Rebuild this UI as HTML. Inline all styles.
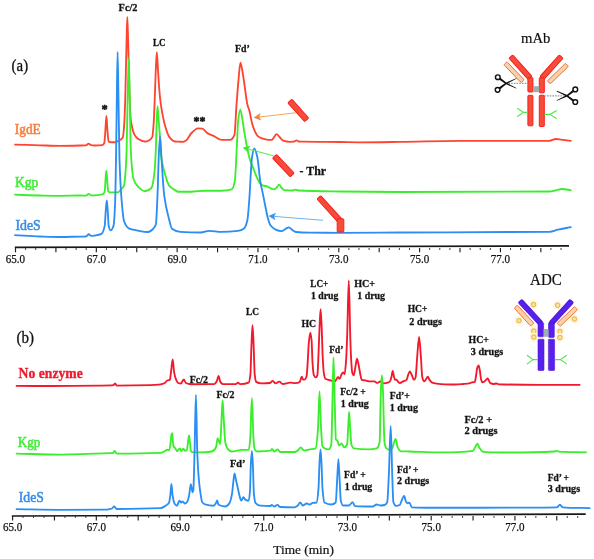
<!DOCTYPE html><html><head><meta charset="utf-8"><title>Chromatograms</title><style>html,body{margin:0;padding:0;background:#fff;}svg{display:block;}</style></head><body><svg width="594" height="559" viewBox="0 0 594 559"><rect width="100%" height="100%" fill="#fff"/><line x1="14.8" y1="247.40" x2="569.0" y2="245.95" stroke="#151a18" stroke-width="1.7"/>
<line x1="15.50" y1="247.90" x2="15.50" y2="252.30" stroke="#1d2220" stroke-width="1.15"/>
<text x="5.8" y="262.6" font-family="'Liberation Serif', serif" font-size="12.5" font-weight="normal" fill="#111" stroke="#111" stroke-width="0.25" stroke-linejoin="round" textLength="19.3" lengthAdjust="spacingAndGlyphs">65.0</text>
<line x1="25.60" y1="248.10" x2="25.60" y2="249.90" stroke="#2a302e" stroke-width="1.0"/>
<line x1="35.70" y1="248.10" x2="35.70" y2="249.90" stroke="#2a302e" stroke-width="1.0"/>
<line x1="45.81" y1="248.10" x2="45.81" y2="249.90" stroke="#2a302e" stroke-width="1.0"/>
<line x1="55.91" y1="247.90" x2="55.91" y2="252.30" stroke="#1d2220" stroke-width="1.15"/>
<line x1="66.01" y1="248.10" x2="66.01" y2="249.90" stroke="#2a302e" stroke-width="1.0"/>
<line x1="76.11" y1="248.10" x2="76.11" y2="249.90" stroke="#2a302e" stroke-width="1.0"/>
<line x1="86.22" y1="248.10" x2="86.22" y2="249.90" stroke="#2a302e" stroke-width="1.0"/>
<line x1="96.32" y1="247.90" x2="96.32" y2="252.30" stroke="#1d2220" stroke-width="1.15"/>
<text x="86.7" y="262.6" font-family="'Liberation Serif', serif" font-size="12.5" font-weight="normal" fill="#111" stroke="#111" stroke-width="0.25" stroke-linejoin="round" textLength="19.3" lengthAdjust="spacingAndGlyphs">67.0</text>
<line x1="106.42" y1="248.10" x2="106.42" y2="249.90" stroke="#2a302e" stroke-width="1.0"/>
<line x1="116.52" y1="248.10" x2="116.52" y2="249.90" stroke="#2a302e" stroke-width="1.0"/>
<line x1="126.63" y1="248.10" x2="126.63" y2="249.90" stroke="#2a302e" stroke-width="1.0"/>
<line x1="136.73" y1="247.90" x2="136.73" y2="252.30" stroke="#1d2220" stroke-width="1.15"/>
<line x1="146.83" y1="248.10" x2="146.83" y2="249.90" stroke="#2a302e" stroke-width="1.0"/>
<line x1="156.94" y1="248.10" x2="156.94" y2="249.90" stroke="#2a302e" stroke-width="1.0"/>
<line x1="167.04" y1="248.10" x2="167.04" y2="249.90" stroke="#2a302e" stroke-width="1.0"/>
<line x1="177.14" y1="247.90" x2="177.14" y2="252.30" stroke="#1d2220" stroke-width="1.15"/>
<text x="167.5" y="262.6" font-family="'Liberation Serif', serif" font-size="12.5" font-weight="normal" fill="#111" stroke="#111" stroke-width="0.25" stroke-linejoin="round" textLength="19.3" lengthAdjust="spacingAndGlyphs">69.0</text>
<line x1="187.24" y1="248.10" x2="187.24" y2="249.90" stroke="#2a302e" stroke-width="1.0"/>
<line x1="197.34" y1="248.10" x2="197.34" y2="249.90" stroke="#2a302e" stroke-width="1.0"/>
<line x1="207.45" y1="248.10" x2="207.45" y2="249.90" stroke="#2a302e" stroke-width="1.0"/>
<line x1="217.55" y1="247.90" x2="217.55" y2="252.30" stroke="#1d2220" stroke-width="1.15"/>
<line x1="227.65" y1="248.10" x2="227.65" y2="249.90" stroke="#2a302e" stroke-width="1.0"/>
<line x1="237.75" y1="248.10" x2="237.75" y2="249.90" stroke="#2a302e" stroke-width="1.0"/>
<line x1="247.86" y1="248.10" x2="247.86" y2="249.90" stroke="#2a302e" stroke-width="1.0"/>
<line x1="257.96" y1="247.90" x2="257.96" y2="252.30" stroke="#1d2220" stroke-width="1.15"/>
<text x="248.3" y="262.6" font-family="'Liberation Serif', serif" font-size="12.5" font-weight="normal" fill="#111" stroke="#111" stroke-width="0.25" stroke-linejoin="round" textLength="19.3" lengthAdjust="spacingAndGlyphs">71.0</text>
<line x1="268.06" y1="248.10" x2="268.06" y2="249.90" stroke="#2a302e" stroke-width="1.0"/>
<line x1="278.16" y1="248.10" x2="278.16" y2="249.90" stroke="#2a302e" stroke-width="1.0"/>
<line x1="288.27" y1="248.10" x2="288.27" y2="249.90" stroke="#2a302e" stroke-width="1.0"/>
<line x1="298.37" y1="247.90" x2="298.37" y2="252.30" stroke="#1d2220" stroke-width="1.15"/>
<line x1="308.47" y1="248.10" x2="308.47" y2="249.90" stroke="#2a302e" stroke-width="1.0"/>
<line x1="318.57" y1="248.10" x2="318.57" y2="249.90" stroke="#2a302e" stroke-width="1.0"/>
<line x1="328.68" y1="248.10" x2="328.68" y2="249.90" stroke="#2a302e" stroke-width="1.0"/>
<line x1="338.78" y1="247.90" x2="338.78" y2="252.30" stroke="#1d2220" stroke-width="1.15"/>
<text x="329.1" y="262.6" font-family="'Liberation Serif', serif" font-size="12.5" font-weight="normal" fill="#111" stroke="#111" stroke-width="0.25" stroke-linejoin="round" textLength="19.3" lengthAdjust="spacingAndGlyphs">73.0</text>
<line x1="348.88" y1="248.10" x2="348.88" y2="249.90" stroke="#2a302e" stroke-width="1.0"/>
<line x1="358.98" y1="248.10" x2="358.98" y2="249.90" stroke="#2a302e" stroke-width="1.0"/>
<line x1="369.09" y1="248.10" x2="369.09" y2="249.90" stroke="#2a302e" stroke-width="1.0"/>
<line x1="379.19" y1="247.90" x2="379.19" y2="252.30" stroke="#1d2220" stroke-width="1.15"/>
<line x1="389.29" y1="248.10" x2="389.29" y2="249.90" stroke="#2a302e" stroke-width="1.0"/>
<line x1="399.39" y1="248.10" x2="399.39" y2="249.90" stroke="#2a302e" stroke-width="1.0"/>
<line x1="409.50" y1="248.10" x2="409.50" y2="249.90" stroke="#2a302e" stroke-width="1.0"/>
<line x1="419.60" y1="247.90" x2="419.60" y2="252.30" stroke="#1d2220" stroke-width="1.15"/>
<text x="409.9" y="262.6" font-family="'Liberation Serif', serif" font-size="12.5" font-weight="normal" fill="#111" stroke="#111" stroke-width="0.25" stroke-linejoin="round" textLength="19.3" lengthAdjust="spacingAndGlyphs">75.0</text>
<line x1="429.70" y1="248.10" x2="429.70" y2="249.90" stroke="#2a302e" stroke-width="1.0"/>
<line x1="439.80" y1="248.10" x2="439.80" y2="249.90" stroke="#2a302e" stroke-width="1.0"/>
<line x1="449.91" y1="248.10" x2="449.91" y2="249.90" stroke="#2a302e" stroke-width="1.0"/>
<line x1="460.01" y1="247.90" x2="460.01" y2="252.30" stroke="#1d2220" stroke-width="1.15"/>
<line x1="470.11" y1="248.10" x2="470.11" y2="249.90" stroke="#2a302e" stroke-width="1.0"/>
<line x1="480.21" y1="248.10" x2="480.21" y2="249.90" stroke="#2a302e" stroke-width="1.0"/>
<line x1="490.32" y1="248.10" x2="490.32" y2="249.90" stroke="#2a302e" stroke-width="1.0"/>
<line x1="500.42" y1="247.90" x2="500.42" y2="252.30" stroke="#1d2220" stroke-width="1.15"/>
<text x="490.8" y="262.6" font-family="'Liberation Serif', serif" font-size="12.5" font-weight="normal" fill="#111" stroke="#111" stroke-width="0.25" stroke-linejoin="round" textLength="19.3" lengthAdjust="spacingAndGlyphs">77.0</text>
<line x1="510.52" y1="248.10" x2="510.52" y2="249.90" stroke="#2a302e" stroke-width="1.0"/>
<line x1="520.62" y1="248.10" x2="520.62" y2="249.90" stroke="#2a302e" stroke-width="1.0"/>
<line x1="530.73" y1="248.10" x2="530.73" y2="249.90" stroke="#2a302e" stroke-width="1.0"/>
<line x1="540.83" y1="247.90" x2="540.83" y2="252.30" stroke="#1d2220" stroke-width="1.15"/>
<line x1="550.93" y1="248.10" x2="550.93" y2="249.90" stroke="#2a302e" stroke-width="1.0"/>
<line x1="561.03" y1="248.10" x2="561.03" y2="249.90" stroke="#2a302e" stroke-width="1.0"/>
<line x1="11.8" y1="516.00" x2="585.7" y2="514.20" stroke="#151a18" stroke-width="1.7"/>
<line x1="12.60" y1="515.90" x2="12.60" y2="520.50" stroke="#1d2220" stroke-width="1.15"/>
<text x="2.9" y="531.3" font-family="'Liberation Serif', serif" font-size="12.5" font-weight="normal" fill="#111" stroke="#111" stroke-width="0.25" stroke-linejoin="round" textLength="19.3" lengthAdjust="spacingAndGlyphs">65.0</text>
<line x1="23.06" y1="516.10" x2="23.06" y2="517.90" stroke="#2a302e" stroke-width="1.0"/>
<line x1="33.53" y1="516.10" x2="33.53" y2="517.90" stroke="#2a302e" stroke-width="1.0"/>
<line x1="43.99" y1="516.10" x2="43.99" y2="517.90" stroke="#2a302e" stroke-width="1.0"/>
<line x1="54.46" y1="515.90" x2="54.46" y2="520.50" stroke="#1d2220" stroke-width="1.15"/>
<line x1="64.92" y1="516.10" x2="64.92" y2="517.90" stroke="#2a302e" stroke-width="1.0"/>
<line x1="75.39" y1="516.10" x2="75.39" y2="517.90" stroke="#2a302e" stroke-width="1.0"/>
<line x1="85.85" y1="516.10" x2="85.85" y2="517.90" stroke="#2a302e" stroke-width="1.0"/>
<line x1="96.32" y1="515.90" x2="96.32" y2="520.50" stroke="#1d2220" stroke-width="1.15"/>
<text x="86.7" y="531.3" font-family="'Liberation Serif', serif" font-size="12.5" font-weight="normal" fill="#111" stroke="#111" stroke-width="0.25" stroke-linejoin="round" textLength="19.3" lengthAdjust="spacingAndGlyphs">67.0</text>
<line x1="106.78" y1="516.10" x2="106.78" y2="517.90" stroke="#2a302e" stroke-width="1.0"/>
<line x1="117.25" y1="516.10" x2="117.25" y2="517.90" stroke="#2a302e" stroke-width="1.0"/>
<line x1="127.71" y1="516.10" x2="127.71" y2="517.90" stroke="#2a302e" stroke-width="1.0"/>
<line x1="138.18" y1="515.90" x2="138.18" y2="520.50" stroke="#1d2220" stroke-width="1.15"/>
<line x1="148.64" y1="516.10" x2="148.64" y2="517.90" stroke="#2a302e" stroke-width="1.0"/>
<line x1="159.11" y1="516.10" x2="159.11" y2="517.90" stroke="#2a302e" stroke-width="1.0"/>
<line x1="169.57" y1="516.10" x2="169.57" y2="517.90" stroke="#2a302e" stroke-width="1.0"/>
<line x1="180.04" y1="515.90" x2="180.04" y2="520.50" stroke="#1d2220" stroke-width="1.15"/>
<text x="170.4" y="531.3" font-family="'Liberation Serif', serif" font-size="12.5" font-weight="normal" fill="#111" stroke="#111" stroke-width="0.25" stroke-linejoin="round" textLength="19.3" lengthAdjust="spacingAndGlyphs">69.0</text>
<line x1="190.50" y1="516.10" x2="190.50" y2="517.90" stroke="#2a302e" stroke-width="1.0"/>
<line x1="200.97" y1="516.10" x2="200.97" y2="517.90" stroke="#2a302e" stroke-width="1.0"/>
<line x1="211.44" y1="516.10" x2="211.44" y2="517.90" stroke="#2a302e" stroke-width="1.0"/>
<line x1="221.90" y1="515.90" x2="221.90" y2="520.50" stroke="#1d2220" stroke-width="1.15"/>
<line x1="232.36" y1="516.10" x2="232.36" y2="517.90" stroke="#2a302e" stroke-width="1.0"/>
<line x1="242.83" y1="516.10" x2="242.83" y2="517.90" stroke="#2a302e" stroke-width="1.0"/>
<line x1="253.29" y1="516.10" x2="253.29" y2="517.90" stroke="#2a302e" stroke-width="1.0"/>
<line x1="263.76" y1="515.90" x2="263.76" y2="520.50" stroke="#1d2220" stroke-width="1.15"/>
<text x="254.1" y="531.3" font-family="'Liberation Serif', serif" font-size="12.5" font-weight="normal" fill="#111" stroke="#111" stroke-width="0.25" stroke-linejoin="round" textLength="19.3" lengthAdjust="spacingAndGlyphs">71.0</text>
<line x1="274.23" y1="516.10" x2="274.23" y2="517.90" stroke="#2a302e" stroke-width="1.0"/>
<line x1="284.69" y1="516.10" x2="284.69" y2="517.90" stroke="#2a302e" stroke-width="1.0"/>
<line x1="295.16" y1="516.10" x2="295.16" y2="517.90" stroke="#2a302e" stroke-width="1.0"/>
<line x1="305.62" y1="515.90" x2="305.62" y2="520.50" stroke="#1d2220" stroke-width="1.15"/>
<line x1="316.09" y1="516.10" x2="316.09" y2="517.90" stroke="#2a302e" stroke-width="1.0"/>
<line x1="326.55" y1="516.10" x2="326.55" y2="517.90" stroke="#2a302e" stroke-width="1.0"/>
<line x1="337.02" y1="516.10" x2="337.02" y2="517.90" stroke="#2a302e" stroke-width="1.0"/>
<line x1="347.48" y1="515.90" x2="347.48" y2="520.50" stroke="#1d2220" stroke-width="1.15"/>
<text x="337.8" y="531.3" font-family="'Liberation Serif', serif" font-size="12.5" font-weight="normal" fill="#111" stroke="#111" stroke-width="0.25" stroke-linejoin="round" textLength="19.3" lengthAdjust="spacingAndGlyphs">73.0</text>
<line x1="357.94" y1="516.10" x2="357.94" y2="517.90" stroke="#2a302e" stroke-width="1.0"/>
<line x1="368.41" y1="516.10" x2="368.41" y2="517.90" stroke="#2a302e" stroke-width="1.0"/>
<line x1="378.88" y1="516.10" x2="378.88" y2="517.90" stroke="#2a302e" stroke-width="1.0"/>
<line x1="389.34" y1="515.90" x2="389.34" y2="520.50" stroke="#1d2220" stroke-width="1.15"/>
<line x1="399.81" y1="516.10" x2="399.81" y2="517.90" stroke="#2a302e" stroke-width="1.0"/>
<line x1="410.27" y1="516.10" x2="410.27" y2="517.90" stroke="#2a302e" stroke-width="1.0"/>
<line x1="420.74" y1="516.10" x2="420.74" y2="517.90" stroke="#2a302e" stroke-width="1.0"/>
<line x1="431.20" y1="515.90" x2="431.20" y2="520.50" stroke="#1d2220" stroke-width="1.15"/>
<text x="421.6" y="531.3" font-family="'Liberation Serif', serif" font-size="12.5" font-weight="normal" fill="#111" stroke="#111" stroke-width="0.25" stroke-linejoin="round" textLength="19.3" lengthAdjust="spacingAndGlyphs">75.0</text>
<line x1="441.67" y1="516.10" x2="441.67" y2="517.90" stroke="#2a302e" stroke-width="1.0"/>
<line x1="452.13" y1="516.10" x2="452.13" y2="517.90" stroke="#2a302e" stroke-width="1.0"/>
<line x1="462.60" y1="516.10" x2="462.60" y2="517.90" stroke="#2a302e" stroke-width="1.0"/>
<line x1="473.06" y1="515.90" x2="473.06" y2="520.50" stroke="#1d2220" stroke-width="1.15"/>
<line x1="483.53" y1="516.10" x2="483.53" y2="517.90" stroke="#2a302e" stroke-width="1.0"/>
<line x1="493.99" y1="516.10" x2="493.99" y2="517.90" stroke="#2a302e" stroke-width="1.0"/>
<line x1="504.46" y1="516.10" x2="504.46" y2="517.90" stroke="#2a302e" stroke-width="1.0"/>
<line x1="514.92" y1="515.90" x2="514.92" y2="520.50" stroke="#1d2220" stroke-width="1.15"/>
<text x="505.3" y="531.3" font-family="'Liberation Serif', serif" font-size="12.5" font-weight="normal" fill="#111" stroke="#111" stroke-width="0.25" stroke-linejoin="round" textLength="19.3" lengthAdjust="spacingAndGlyphs">77.0</text>
<line x1="525.38" y1="516.10" x2="525.38" y2="517.90" stroke="#2a302e" stroke-width="1.0"/>
<line x1="535.85" y1="516.10" x2="535.85" y2="517.90" stroke="#2a302e" stroke-width="1.0"/>
<line x1="546.32" y1="516.10" x2="546.32" y2="517.90" stroke="#2a302e" stroke-width="1.0"/>
<line x1="556.78" y1="515.90" x2="556.78" y2="520.50" stroke="#1d2220" stroke-width="1.15"/>
<line x1="567.25" y1="516.10" x2="567.25" y2="517.90" stroke="#2a302e" stroke-width="1.0"/>
<line x1="577.71" y1="516.10" x2="577.71" y2="517.90" stroke="#2a302e" stroke-width="1.0"/>
<path d="M15.00 144.60 C23.33 144.83 31.67 145.08 40.00 145.30 C46.67 145.48 53.33 145.80 60.00 145.80 C66.67 145.80 73.33 145.65 80.00 145.50 C82.00 145.46 84.00 145.44 86.00 145.30 C86.90 145.24 87.80 143.60 88.70 143.60 C89.47 143.60 90.23 145.09 91.00 145.20 C92.33 145.39 93.67 145.50 95.00 145.50 C97.40 145.50 99.80 145.40 102.20 145.10 C102.90 145.01 103.60 144.42 104.30 143.00 C104.67 142.26 105.03 134.71 105.40 130.00 C105.73 125.72 106.07 116.00 106.40 116.00 C106.73 116.00 107.07 126.19 107.40 130.00 C107.80 134.58 108.20 141.22 108.60 141.50 C109.30 141.99 110.00 142.20 110.70 142.20 C112.13 142.20 113.57 142.20 115.00 142.20 C116.67 142.20 118.33 141.04 120.00 140.00 C120.97 139.40 121.93 139.09 122.90 137.20 C123.37 136.29 123.83 130.00 124.30 123.00 C124.60 118.50 124.90 109.71 125.20 100.00 C125.43 92.45 125.67 80.00 125.90 70.00 C126.13 60.00 126.37 48.68 126.60 40.00 C126.83 31.32 127.07 17.00 127.30 17.00 C127.57 17.00 127.83 31.32 128.10 40.00 C128.37 48.68 128.63 60.00 128.90 70.00 C129.17 80.00 129.43 93.00 129.70 100.00 C130.00 107.87 130.30 114.89 130.60 118.00 C130.90 121.11 131.20 122.79 131.50 124.30 C132.43 129.00 133.37 132.69 134.30 134.40 C135.50 136.60 136.70 137.95 137.90 138.70 C140.27 140.18 142.63 141.50 145.00 141.50 C147.40 141.50 149.80 140.54 152.20 137.20 C152.70 136.50 153.20 129.90 153.70 123.00 C154.03 118.40 154.37 108.40 154.70 100.00 C155.00 92.44 155.30 81.83 155.60 75.00 C156.00 65.89 156.40 52.20 156.80 52.20 C157.20 52.20 157.60 63.94 158.00 70.00 C158.37 75.55 158.73 82.32 159.10 87.00 C159.50 92.11 159.90 96.55 160.30 100.00 C160.70 103.45 161.10 106.23 161.50 108.60 C162.70 115.72 163.90 121.67 165.10 125.80 C166.53 130.73 167.97 135.45 169.40 137.20 C171.27 139.48 173.13 141.41 175.00 141.50 C176.20 141.56 177.40 141.55 178.60 141.60 C179.83 141.65 181.07 141.90 182.30 141.90 C183.57 141.90 184.83 141.21 186.10 140.50 C187.90 139.49 189.70 134.74 191.50 133.00 C193.63 130.93 195.77 128.30 197.90 128.30 C199.33 128.30 200.77 128.47 202.20 128.70 C204.00 128.99 205.80 132.34 207.60 133.40 C209.73 134.65 211.87 135.21 214.00 136.20 C216.50 137.36 219.00 139.90 221.50 139.90 C224.37 139.90 227.23 139.90 230.10 139.90 C231.53 139.90 232.97 138.43 234.40 135.20 C235.10 133.62 235.80 114.46 236.50 105.10 C237.17 96.18 237.83 87.05 238.50 80.00 C239.13 73.30 239.77 62.60 240.40 62.60 C241.00 62.60 241.60 67.00 242.20 70.00 C242.80 73.00 243.40 77.58 244.00 81.50 C245.17 89.12 246.33 100.34 247.50 105.00 C248.13 107.53 248.77 108.40 249.40 110.70 C250.30 113.97 251.20 120.44 252.10 123.60 C253.00 126.76 253.90 129.15 254.80 131.10 C255.70 133.05 256.60 135.08 257.50 135.90 C258.93 137.21 260.37 137.91 261.80 138.40 C263.93 139.13 266.07 139.90 268.20 139.90 C269.47 139.90 270.73 139.90 272.00 139.90 C272.70 139.90 273.40 137.88 274.10 137.00 C274.93 135.95 275.77 134.10 276.60 134.10 C277.57 134.10 278.53 136.05 279.50 137.00 C280.73 138.22 281.97 140.19 283.20 140.60 C285.33 141.31 287.47 141.80 289.60 141.80 C291.07 141.80 292.53 141.77 294.00 141.70 C294.83 141.66 295.67 140.40 296.50 140.40 C297.33 140.40 298.17 141.40 299.00 141.50 C300.00 141.62 301.00 141.68 302.00 141.70 C314.67 141.93 327.33 141.86 340.00 142.00 C346.67 142.07 353.33 142.30 360.00 142.30 C373.33 142.30 386.67 142.07 400.00 141.90 C419.90 141.65 439.80 140.80 459.70 140.80 C489.60 140.80 519.50 140.80 549.40 140.80 C551.53 140.80 553.67 139.00 555.80 139.00 C557.87 139.00 559.93 139.55 562.00 139.80 C564.93 140.16 567.87 140.47 570.80 140.80" fill="none" stroke="#fd4630" stroke-width="1.85" stroke-linejoin="round" stroke-linecap="round"/>
<path d="M15.00 194.70 C23.33 194.97 31.67 195.33 40.00 195.50 C46.67 195.63 53.33 195.80 60.00 195.80 C66.67 195.80 73.33 195.50 80.00 195.50 C82.00 195.50 84.00 195.60 86.00 195.60 C86.93 195.60 87.87 193.90 88.80 193.90 C89.60 193.90 90.40 195.40 91.20 195.40 C92.47 195.40 93.73 195.35 95.00 195.30 C97.67 195.19 100.33 195.00 103.00 194.10 C103.57 193.91 104.13 193.10 104.70 191.20 C104.97 190.30 105.23 183.41 105.50 180.00 C105.77 176.59 106.03 170.60 106.30 170.60 C106.60 170.60 106.90 176.76 107.20 180.00 C107.53 183.60 107.87 190.79 108.20 191.20 C108.90 192.05 109.60 192.40 110.30 192.40 C112.70 192.40 115.10 192.40 117.50 192.40 C118.60 192.40 119.70 190.71 120.80 189.60 C121.87 188.52 122.93 188.16 124.00 185.60 C124.53 184.32 125.07 178.08 125.60 171.10 C125.93 166.74 126.27 159.89 126.60 150.00 C126.93 140.11 127.27 113.80 127.60 100.00 C128.00 83.44 128.40 58.00 128.80 58.00 C129.13 58.00 129.47 84.78 129.80 100.00 C130.13 115.22 130.47 143.58 130.80 150.00 C131.73 167.96 132.67 176.38 133.60 179.20 C135.23 184.14 136.87 185.69 138.50 187.20 C140.63 189.17 142.77 191.20 144.90 191.20 C147.07 191.20 149.23 190.15 151.40 188.00 C152.47 186.94 153.53 180.53 154.60 171.10 C155.00 167.56 155.40 159.17 155.80 150.00 C156.07 143.88 156.33 131.70 156.60 125.00 C156.90 117.46 157.20 106.20 157.50 106.20 C157.87 106.20 158.23 115.47 158.60 120.00 C159.07 125.76 159.53 130.16 160.00 137.00 C160.33 141.89 160.67 152.09 161.00 155.00 C162.07 164.30 163.13 167.05 164.20 171.10 C165.83 177.30 167.47 183.58 169.10 185.60 C171.07 188.03 173.03 188.94 175.00 190.10 C176.07 190.73 177.13 191.70 178.20 191.70 C182.33 191.70 186.47 191.70 190.60 191.70 C195.40 191.70 200.20 190.70 205.00 190.70 C210.47 190.70 215.93 190.70 221.40 190.70 C224.83 190.70 228.27 190.36 231.70 189.30 C232.73 188.98 233.77 186.22 234.80 181.40 C235.50 178.13 236.20 157.94 236.90 145.00 C237.30 137.60 237.70 125.09 238.10 121.50 C238.83 114.92 239.57 109.60 240.30 109.60 C241.00 109.60 241.70 115.44 242.40 119.30 C242.93 122.24 243.47 126.66 244.00 130.00 C244.73 134.60 245.47 139.03 246.20 142.90 C247.10 147.66 248.00 152.17 248.90 155.80 C249.43 157.95 249.97 160.00 250.50 161.50 C251.00 162.91 251.50 163.78 252.00 165.00 C252.83 167.04 253.67 169.40 254.50 171.50 C255.57 174.19 256.63 177.15 257.70 179.30 C258.47 180.84 259.23 182.39 260.00 183.30 C260.70 184.13 261.40 184.89 262.10 185.20 C263.90 185.99 265.70 185.96 267.50 186.60 C268.67 187.01 269.83 187.89 271.00 188.40 C271.87 188.78 272.73 189.40 273.60 189.40 C274.47 189.40 275.33 188.63 276.20 188.00 C277.20 187.28 278.20 184.60 279.20 184.60 C280.00 184.60 280.80 187.19 281.60 188.00 C282.53 188.95 283.47 190.12 284.40 190.20 C286.93 190.42 289.47 190.50 292.00 190.50 C293.17 190.50 294.33 189.60 295.50 189.60 C296.50 189.60 297.50 190.44 298.50 190.50 C312.33 191.32 326.17 191.32 340.00 191.50 C360.00 191.76 380.00 192.00 400.00 192.00 C449.80 192.00 499.60 191.97 549.40 191.50 C551.27 191.48 553.13 190.86 555.00 190.50 C557.40 190.04 559.80 189.00 562.20 189.00 C565.07 189.00 567.93 189.87 570.80 190.30" fill="none" stroke="#3aee2c" stroke-width="1.85" stroke-linejoin="round" stroke-linecap="round"/>
<path d="M15.00 235.20 C23.33 235.63 31.67 236.22 40.00 236.50 C46.67 236.72 53.33 237.00 60.00 237.00 C66.67 237.00 73.33 236.72 80.00 236.60 C82.00 236.56 84.00 236.57 86.00 236.50 C86.93 236.47 87.87 234.20 88.80 234.20 C89.60 234.20 90.40 235.90 91.20 235.90 C92.47 235.90 93.73 235.68 95.00 235.50 C97.13 235.19 99.27 234.96 101.40 233.90 C102.50 233.35 103.60 231.08 104.70 225.90 C105.07 224.17 105.43 214.22 105.80 210.00 C106.13 206.17 106.47 200.40 106.80 200.40 C107.13 200.40 107.47 207.57 107.80 212.00 C108.10 215.98 108.40 224.55 108.70 225.90 C109.33 228.75 109.97 230.40 110.60 230.40 C111.57 230.40 112.53 228.83 113.50 225.90 C114.03 224.28 114.57 215.57 115.10 203.30 C115.40 196.40 115.70 177.66 116.00 160.00 C116.27 144.30 116.53 117.80 116.80 100.00 C117.07 82.20 117.33 51.90 117.60 51.90 C117.90 51.90 118.20 83.06 118.50 100.00 C118.83 118.83 119.17 149.73 119.50 160.00 C120.20 181.56 120.90 191.54 121.60 200.00 C122.40 209.67 123.20 218.75 124.00 221.00 C125.60 225.50 127.20 227.55 128.80 228.30 C131.50 229.57 134.20 229.89 136.90 230.40 C140.63 231.10 144.37 232.00 148.10 232.00 C149.73 232.00 151.37 230.52 153.00 229.00 C153.97 228.10 154.93 227.33 155.90 224.20 C156.53 222.15 157.17 202.97 157.80 187.20 C158.13 178.90 158.47 161.69 158.80 155.00 C159.23 146.30 159.67 136.50 160.10 136.50 C160.50 136.50 160.90 149.11 161.30 155.00 C162.27 169.23 163.23 187.98 164.20 195.30 C165.83 207.67 167.47 213.13 169.10 219.40 C170.07 223.11 171.03 228.06 172.00 228.80 C174.77 230.92 177.53 231.73 180.30 231.90 C187.17 232.32 194.03 232.50 200.90 232.50 C203.63 232.50 206.37 230.80 209.10 230.80 C213.20 230.80 217.30 231.90 221.40 231.90 C226.90 231.90 232.40 231.50 237.90 230.80 C239.97 230.54 242.03 229.90 244.10 228.40 C245.20 227.60 246.30 224.78 247.40 220.00 C248.13 216.82 248.87 205.53 249.60 195.00 C249.97 189.74 250.33 180.70 250.70 175.00 C251.13 168.27 251.57 160.29 252.00 157.50 C252.77 152.56 253.53 148.40 254.30 148.40 C255.30 148.40 256.30 152.76 257.30 157.00 C258.30 161.24 259.30 175.34 260.30 181.40 C261.23 187.06 262.17 190.40 263.10 195.00 C264.00 199.44 264.90 204.15 265.80 208.50 C266.47 211.73 267.13 215.56 267.80 217.90 C268.70 221.06 269.60 224.07 270.50 225.30 C272.07 227.44 273.63 228.60 275.20 229.30 C277.23 230.21 279.27 231.10 281.30 231.10 C282.87 231.10 284.43 229.48 286.00 228.70 C286.97 228.22 287.93 227.30 288.90 227.30 C289.93 227.30 290.97 229.02 292.00 229.70 C293.37 230.60 294.73 231.84 296.10 232.00 C300.37 232.50 304.63 232.67 308.90 232.70 C319.27 232.77 329.63 232.80 340.00 232.80 C360.00 232.80 380.00 232.60 400.00 232.50 C449.80 232.26 499.60 232.44 549.40 231.80 C552.27 231.76 555.13 230.34 558.00 229.70 C562.27 228.75 566.53 227.97 570.80 227.10" fill="none" stroke="#2a8ef4" stroke-width="1.85" stroke-linejoin="round" stroke-linecap="round"/>
<path d="M16.60 385.90 C27.73 385.93 38.87 386.00 50.00 386.00 C66.67 386.00 83.33 385.84 100.00 385.60 C104.50 385.54 109.00 385.54 113.50 385.20 C114.07 385.16 114.63 383.50 115.20 383.50 C115.73 383.50 116.27 385.60 116.80 385.60 C128.03 385.60 139.27 385.46 150.50 385.20 C153.30 385.14 156.10 384.99 158.90 384.70 C160.87 384.50 162.83 383.95 164.80 383.00 C165.63 382.60 166.47 380.89 167.30 380.50 C168.17 380.09 169.03 380.28 169.90 379.70 C170.27 379.45 170.63 374.72 171.00 372.10 C171.57 368.06 172.13 359.50 172.70 359.50 C173.17 359.50 173.63 369.51 174.10 372.10 C174.67 375.25 175.23 377.43 175.80 378.80 C176.63 380.81 177.47 382.70 178.30 383.00 C179.13 383.30 179.97 383.50 180.80 383.50 C181.80 383.50 182.80 379.50 183.80 379.50 C184.50 379.50 185.20 382.67 185.90 383.00 C187.57 383.78 189.23 384.20 190.90 384.20 C198.70 384.20 206.50 384.19 214.30 384.10 C215.17 384.09 216.03 382.45 216.90 380.90 C217.47 379.89 218.03 375.90 218.60 375.90 C219.17 375.90 219.73 381.09 220.30 381.90 C221.17 383.14 222.03 384.10 222.90 384.10 C227.20 384.10 231.50 384.10 235.80 384.10 C236.50 384.10 237.20 382.60 237.90 382.60 C238.63 382.60 239.37 384.10 240.10 384.10 C242.97 384.10 245.83 383.82 248.70 382.60 C249.27 382.36 249.83 379.29 250.40 374.40 C250.77 371.24 251.13 352.67 251.50 344.40 C251.83 336.89 252.17 325.10 252.50 325.10 C252.87 325.10 253.23 336.57 253.60 344.40 C253.97 352.23 254.33 371.19 254.70 374.40 C255.20 378.78 255.70 381.58 256.20 381.90 C257.97 383.04 259.73 383.40 261.50 383.40 C264.37 383.40 267.23 383.30 270.10 383.00 C270.97 382.91 271.83 380.90 272.70 380.90 C273.63 380.90 274.57 383.40 275.50 383.40 C276.77 383.40 278.03 381.60 279.30 381.60 C280.47 381.60 281.63 384.00 282.80 384.00 C285.20 384.00 287.60 382.60 290.00 382.60 C291.80 382.60 293.60 383.10 295.40 383.10 C296.83 383.10 298.27 382.80 299.70 382.00 C300.03 381.81 300.37 380.24 300.70 379.40 C301.07 378.47 301.43 376.70 301.80 376.70 C302.23 376.70 302.67 379.60 303.10 379.60 C303.73 379.60 304.37 379.53 305.00 379.40 C305.53 379.29 306.07 378.08 306.60 376.10 C306.97 374.74 307.33 367.59 307.70 362.20 C308.07 356.81 308.43 346.58 308.80 342.90 C309.30 337.89 309.80 332.70 310.30 332.70 C310.73 332.70 311.17 336.30 311.60 340.70 C311.90 343.74 312.20 357.89 312.50 362.20 C312.93 368.43 313.37 374.15 313.80 375.10 C314.47 376.56 315.13 377.40 315.80 377.40 C316.33 377.40 316.87 376.62 317.40 375.10 C317.73 374.15 318.07 363.96 318.40 356.80 C318.77 348.92 319.13 335.61 319.50 328.00 C319.87 320.39 320.23 309.10 320.60 309.10 C320.97 309.10 321.33 320.08 321.70 328.00 C322.03 335.20 322.37 350.30 322.70 356.80 C323.07 363.95 323.43 370.66 323.80 372.90 C324.33 376.16 324.87 378.43 325.40 378.80 C326.47 379.54 327.53 379.58 328.60 379.90 C330.03 380.32 331.47 380.81 332.90 381.00 C333.60 381.09 334.30 381.20 335.00 381.20 C336.00 381.20 337.00 376.90 338.00 376.90 C338.50 376.90 339.00 378.90 339.50 378.90 C340.37 378.90 341.23 374.14 342.10 373.30 C342.60 372.81 343.10 372.30 343.60 372.30 C343.93 372.30 344.27 374.30 344.60 374.30 C345.10 374.30 345.60 366.99 346.10 360.20 C346.43 355.68 346.77 346.78 347.10 338.00 C347.67 323.08 348.23 280.50 348.80 280.50 C349.30 280.50 349.80 323.26 350.30 338.00 C350.60 346.85 350.90 355.30 351.20 360.20 C351.53 365.64 351.87 371.06 352.20 372.30 C352.70 374.15 353.20 375.40 353.70 375.40 C354.20 375.40 354.70 370.80 355.20 368.30 C355.80 365.30 356.40 358.70 357.00 358.70 C357.57 358.70 358.13 362.69 358.70 365.30 C359.23 367.75 359.77 371.91 360.30 374.30 C360.80 376.54 361.30 379.74 361.80 379.90 C362.97 380.27 364.13 380.19 365.30 380.40 C366.63 380.64 367.97 381.40 369.30 381.40 C371.00 381.40 372.70 381.40 374.40 381.40 C375.40 381.40 376.40 382.90 377.40 382.90 C378.60 382.90 379.80 381.20 381.00 381.20 C381.83 381.20 382.67 383.40 383.50 383.40 C385.17 383.40 386.83 383.00 388.50 382.40 C389.07 382.20 389.63 381.77 390.20 381.00 C390.60 380.46 391.00 378.74 391.40 377.20 C391.83 375.53 392.27 370.80 392.70 370.80 C393.17 370.80 393.63 375.73 394.10 377.20 C394.47 378.36 394.83 379.90 395.20 379.90 C395.67 379.90 396.13 379.60 396.60 379.60 C397.03 379.60 397.47 381.05 397.90 381.50 C398.60 382.22 399.30 383.10 400.00 383.10 C401.07 383.10 402.13 381.82 403.20 381.30 C404.30 380.77 405.40 380.80 406.50 379.90 C407.03 379.47 407.57 376.43 408.10 375.10 C408.70 373.61 409.30 371.30 409.90 371.30 C410.53 371.30 411.17 373.78 411.80 375.10 C412.53 376.63 413.27 379.90 414.00 379.90 C414.53 379.90 415.07 378.79 415.60 377.20 C416.13 375.61 416.67 362.93 417.20 356.80 C417.83 349.52 418.47 337.00 419.10 337.00 C419.70 337.00 420.30 349.23 420.90 356.80 C421.37 362.68 421.83 375.38 422.30 377.20 C422.93 379.67 423.57 381.30 424.20 381.30 C424.90 381.30 425.60 379.74 426.30 378.80 C426.77 378.18 427.23 376.70 427.70 376.70 C428.30 376.70 428.90 379.12 429.50 379.90 C430.40 381.07 431.30 382.24 432.20 382.60 C433.63 383.17 435.07 383.42 436.50 383.60 C439.33 383.96 442.17 384.21 445.00 384.30 C448.33 384.41 451.67 384.50 455.00 384.50 C457.80 384.50 460.60 384.22 463.40 384.00 C465.67 383.82 467.93 383.69 470.20 383.20 C470.73 383.08 471.27 382.54 471.80 382.40 C472.80 382.14 473.80 382.27 474.80 381.90 C475.20 381.75 475.60 378.23 476.00 376.00 C476.43 373.58 476.87 368.72 477.30 367.60 C477.73 366.48 478.17 365.50 478.60 365.50 C479.00 365.50 479.40 368.19 479.80 370.20 C480.23 372.38 480.67 377.89 481.10 379.40 C481.53 380.91 481.97 382.40 482.40 382.40 C483.10 382.40 483.80 381.94 484.50 381.50 C485.03 381.17 485.57 380.31 486.10 379.80 C486.63 379.29 487.17 378.40 487.70 378.40 C488.17 378.40 488.63 380.28 489.10 381.10 C489.53 381.86 489.97 383.00 490.40 383.20 C491.50 383.72 492.60 384.00 493.70 384.00 C494.53 384.00 495.37 383.50 496.20 383.50 C497.07 383.50 497.93 384.24 498.80 384.30 C500.87 384.44 502.93 384.47 505.00 384.50 C516.67 384.68 528.33 384.80 540.00 384.80 C553.20 384.80 566.40 384.80 579.60 384.80" fill="none" stroke="#f2192c" stroke-width="1.85" stroke-linejoin="round" stroke-linecap="round"/>
<path d="M16.60 453.60 C31.27 453.93 45.93 454.60 60.60 454.60 C77.07 454.60 93.53 453.93 110.00 453.20 C111.03 453.15 112.07 453.14 113.10 453.00 C113.63 452.93 114.17 451.00 114.70 451.00 C115.37 451.00 116.03 453.60 116.70 453.60 C131.13 453.60 145.57 453.49 160.00 452.90 C161.43 452.84 162.87 452.12 164.30 451.50 C165.27 451.08 166.23 449.70 167.20 449.70 C167.90 449.70 168.60 450.10 169.30 450.10 C169.77 450.10 170.23 444.92 170.70 441.50 C170.97 439.54 171.23 435.31 171.50 434.50 C171.73 433.80 171.97 433.20 172.20 433.20 C172.43 433.20 172.67 439.42 172.90 441.50 C173.13 443.58 173.37 446.05 173.60 446.50 C174.07 447.39 174.53 447.34 175.00 447.90 C175.73 448.78 176.47 451.30 177.20 451.30 C177.73 451.30 178.27 449.76 178.80 449.30 C179.20 448.96 179.60 448.50 180.00 448.50 C180.50 448.50 181.00 451.10 181.50 451.10 C182.10 451.10 182.70 448.60 183.30 448.60 C183.90 448.60 184.50 450.80 185.10 450.80 C185.67 450.80 186.23 450.56 186.80 450.10 C187.23 449.75 187.67 444.40 188.10 441.50 C188.40 439.49 188.70 435.40 189.00 435.40 C189.30 435.40 189.60 439.07 189.90 441.50 C190.20 443.93 190.50 449.86 190.80 450.60 C191.17 451.50 191.53 452.07 191.90 452.10 C194.60 452.36 197.30 452.40 200.00 452.40 C203.93 452.40 207.87 452.15 211.80 451.50 C213.20 451.27 214.60 449.92 216.00 447.30 C216.57 446.24 217.13 438.10 217.70 438.10 C218.10 438.10 218.50 440.47 218.90 441.40 C219.33 442.41 219.77 444.00 220.20 444.00 C220.60 444.00 221.00 429.40 221.40 422.10 C221.80 414.80 222.20 400.20 222.60 400.20 C223.03 400.20 223.47 415.36 223.90 422.10 C224.37 429.36 224.83 440.04 225.30 442.30 C226.13 446.33 226.97 448.14 227.80 449.00 C229.20 450.44 230.60 451.50 232.00 451.50 C233.67 451.50 235.33 450.96 237.00 450.70 C238.70 450.43 240.40 449.90 242.10 449.90 C244.33 449.90 246.57 449.90 248.80 449.90 C249.27 449.90 249.73 444.33 250.20 438.90 C250.77 432.30 251.33 398.20 251.90 398.20 C252.43 398.20 252.97 432.11 253.50 438.90 C253.90 443.99 254.30 448.72 254.70 449.40 C255.53 450.81 256.37 451.50 257.20 451.50 C261.70 451.50 266.20 451.38 270.70 450.70 C271.13 450.63 271.57 449.00 272.00 449.00 C272.70 449.00 273.40 451.50 274.10 451.50 C275.33 451.50 276.57 449.40 277.80 449.40 C278.53 449.40 279.27 452.00 280.00 452.00 C284.77 452.00 289.53 452.00 294.30 452.00 C295.50 452.00 296.70 451.16 297.90 450.40 C298.87 449.79 299.83 447.40 300.80 447.40 C301.80 447.40 302.80 450.40 303.80 450.40 C305.77 450.40 307.73 449.73 309.70 449.40 C311.67 449.07 313.63 449.16 315.60 448.40 C316.40 448.09 317.20 438.98 318.00 428.70 C318.50 422.28 319.00 391.30 319.50 391.30 C320.03 391.30 320.57 419.97 321.10 428.70 C321.57 436.34 322.03 445.95 322.50 446.50 C324.47 448.80 326.43 449.40 328.40 449.40 C329.37 449.40 330.33 448.16 331.30 444.50 C331.63 443.24 331.97 422.01 332.30 409.10 C332.70 393.61 333.10 357.50 333.50 357.50 C333.97 357.50 334.43 393.60 334.90 409.10 C335.23 420.17 335.57 439.08 335.90 439.60 C336.33 440.28 336.77 440.11 337.20 440.60 C337.87 441.35 338.53 445.50 339.20 445.50 C340.00 445.50 340.80 443.50 341.60 443.50 C342.43 443.50 343.27 447.40 344.10 447.40 C345.10 447.40 346.10 446.59 347.10 444.50 C347.50 443.66 347.90 431.28 348.30 424.80 C348.57 420.48 348.83 412.00 349.10 412.00 C349.40 412.00 349.70 420.55 350.00 424.80 C350.47 431.40 350.93 443.12 351.40 444.50 C352.27 447.06 353.13 448.26 354.00 448.40 C358.90 449.21 363.80 449.40 368.70 449.40 C371.33 449.40 373.97 449.12 376.60 448.40 C377.60 448.13 378.60 446.76 379.60 442.50 C380.03 440.65 380.47 398.34 380.90 389.40 C381.23 382.52 381.57 375.20 381.90 375.20 C382.23 375.20 382.57 382.97 382.90 389.40 C383.43 399.69 383.97 439.52 384.50 442.50 C385.17 446.23 385.83 447.83 386.50 448.40 C387.67 449.39 388.83 450.00 390.00 450.00 C390.83 450.00 391.67 448.95 392.50 447.70 C393.10 446.80 393.70 442.89 394.30 441.50 C394.77 440.42 395.23 439.00 395.70 439.00 C396.30 439.00 396.90 445.54 397.50 446.80 C398.67 449.26 399.83 451.24 401.00 451.30 C403.83 451.45 406.67 451.43 409.50 451.50 C419.87 451.76 430.23 452.40 440.60 452.40 C451.37 452.40 462.13 452.21 472.90 450.80 C473.73 450.69 474.57 448.11 475.40 446.80 C476.07 445.75 476.73 443.70 477.40 443.70 C478.07 443.70 478.73 446.81 479.40 447.80 C480.60 449.58 481.80 451.68 483.00 451.80 C488.67 452.36 494.33 452.50 500.00 452.50 C518.27 452.50 536.53 452.37 554.80 451.50 C555.53 451.47 556.27 450.80 557.00 450.80 C557.67 450.80 558.33 451.56 559.00 451.60 C568.03 452.19 577.07 452.07 586.10 452.30" fill="none" stroke="#3aee2c" stroke-width="1.85" stroke-linejoin="round" stroke-linecap="round"/>
<path d="M16.60 509.20 C31.07 509.40 45.53 509.80 60.00 509.80 C75.00 509.80 90.00 509.77 105.00 509.60 C106.67 509.58 108.33 509.28 110.00 509.00 C110.67 508.89 111.33 508.76 112.00 508.50 C112.77 508.21 113.53 506.50 114.30 506.50 C115.10 506.50 115.90 509.00 116.70 509.00 C131.30 509.00 145.90 508.88 160.50 508.20 C162.20 508.12 163.90 506.74 165.60 505.70 C166.70 505.02 167.80 504.78 168.90 503.10 C169.37 502.39 169.83 498.98 170.30 495.60 C170.67 492.94 171.03 483.80 171.40 483.80 C171.80 483.80 172.20 493.30 172.60 495.60 C173.33 499.82 174.07 503.06 174.80 504.00 C175.53 504.94 176.27 505.70 177.00 505.70 C177.80 505.70 178.60 500.60 179.40 500.60 C179.93 500.60 180.47 502.60 181.00 502.60 C181.57 502.60 182.13 501.40 182.70 501.40 C183.43 501.40 184.17 503.60 184.90 503.60 C185.73 503.60 186.57 502.61 187.40 501.40 C187.97 500.58 188.53 498.17 189.10 495.60 C189.67 493.03 190.23 484.10 190.80 484.10 C191.37 484.10 191.93 492.20 192.50 492.20 C192.77 492.20 193.03 491.49 193.30 490.50 C193.73 488.89 194.17 465.57 194.60 450.00 C195.03 434.43 195.47 394.80 195.90 394.80 C196.33 394.80 196.77 438.37 197.20 450.00 C197.60 460.73 198.00 468.33 198.40 473.70 C198.97 481.31 199.53 486.51 200.10 490.50 C200.83 495.66 201.57 501.30 202.30 502.30 C203.23 503.57 204.17 504.13 205.10 504.40 C207.90 505.21 210.70 505.70 213.50 505.70 C214.33 505.70 215.17 504.36 216.00 503.10 C216.40 502.50 216.80 500.30 217.20 500.30 C217.63 500.30 218.07 504.55 218.50 504.80 C220.77 506.11 223.03 506.50 225.30 506.50 C226.70 506.50 228.10 505.06 229.50 503.10 C230.33 501.93 231.17 498.47 232.00 493.90 C232.43 491.52 232.87 485.61 233.30 482.10 C233.70 478.86 234.10 473.30 234.50 473.30 C234.90 473.30 235.30 476.91 235.70 478.70 C236.27 481.24 236.83 483.77 237.40 486.30 C237.97 488.83 238.53 491.78 239.10 493.90 C239.80 496.52 240.50 500.60 241.20 500.60 C241.93 500.60 242.67 497.20 243.40 497.20 C244.10 497.20 244.80 499.50 245.50 499.80 C246.60 500.27 247.70 500.60 248.80 500.60 C249.20 500.60 249.60 496.03 250.00 490.50 C250.27 486.82 250.53 470.34 250.80 465.30 C251.17 458.37 251.53 450.90 251.90 450.90 C252.23 450.90 252.57 458.91 252.90 465.30 C253.23 471.69 253.57 490.68 253.90 493.90 C254.47 499.38 255.03 502.48 255.60 503.10 C257.27 504.93 258.93 505.60 260.60 505.70 C263.97 505.91 267.33 506.00 270.70 506.00 C270.97 506.00 271.23 504.80 271.50 504.80 C272.37 504.80 273.23 506.50 274.10 506.50 C275.20 506.50 276.30 504.80 277.40 504.80 C278.27 504.80 279.13 506.95 280.00 507.00 C284.77 507.25 289.53 507.30 294.30 507.30 C295.50 507.30 296.70 506.40 297.90 505.50 C298.67 504.93 299.43 502.50 300.20 502.50 C301.07 502.50 301.93 505.50 302.80 505.50 C304.10 505.50 305.40 503.50 306.70 503.50 C307.70 503.50 308.70 504.50 309.70 504.50 C310.67 504.50 311.63 503.07 312.60 502.90 C313.93 502.67 315.27 502.80 316.60 502.50 C317.23 502.36 317.87 496.31 318.50 488.70 C318.83 484.70 319.17 469.05 319.50 463.10 C319.83 457.15 320.17 449.40 320.50 449.40 C320.83 449.40 321.17 457.15 321.50 463.10 C321.83 469.05 322.17 484.70 322.50 488.70 C323.13 496.31 323.77 502.07 324.40 502.50 C326.70 504.05 329.00 504.50 331.30 504.50 C332.77 504.50 334.23 504.03 335.70 502.50 C336.20 501.98 336.70 486.94 337.20 478.90 C337.60 472.47 338.00 459.20 338.40 459.20 C338.80 459.20 339.20 472.02 339.60 478.90 C340.00 485.78 340.40 498.94 340.80 500.60 C341.57 503.79 342.33 505.50 343.10 505.50 C345.10 505.50 347.10 505.50 349.10 505.50 C350.27 505.50 351.43 502.10 352.60 502.10 C353.40 502.10 354.20 506.05 355.00 506.10 C360.90 506.45 366.80 506.50 372.70 506.50 C374.00 506.50 375.30 504.50 376.60 504.50 C377.93 504.50 379.27 505.50 380.60 505.50 C381.90 505.50 383.20 505.31 384.50 505.00 C385.40 504.79 386.30 504.12 387.20 502.30 C387.77 501.15 388.33 485.35 388.90 473.70 C389.50 461.37 390.10 425.90 390.70 425.90 C391.20 425.90 391.70 460.14 392.20 473.70 C392.60 484.55 393.00 501.16 393.40 502.30 C394.30 504.87 395.20 505.90 396.10 505.90 C397.30 505.90 398.50 505.56 399.70 505.00 C400.60 504.58 401.50 500.32 402.40 498.70 C403.00 497.62 403.60 496.00 404.20 496.00 C404.77 496.00 405.33 500.53 405.90 501.40 C406.50 502.32 407.10 503.20 407.70 503.20 C408.30 503.20 408.90 502.60 409.50 502.60 C410.27 502.60 411.03 507.26 411.80 507.30 C419.10 507.66 426.40 507.70 433.70 507.70 C449.13 507.70 464.57 507.70 480.00 507.70 C505.60 507.70 531.20 507.68 556.80 507.30 C557.83 507.28 558.87 504.80 559.90 504.80 C560.90 504.80 561.90 507.22 562.90 507.30 C571.80 507.98 580.70 507.83 589.60 508.10" fill="none" stroke="#2a8ef4" stroke-width="1.85" stroke-linejoin="round" stroke-linecap="round"/>
<text x="11.6" y="71.4" font-family="'Liberation Serif', serif" font-size="15.8" font-weight="normal" fill="#111" stroke="#111" stroke-width="0.30" stroke-linejoin="round" textLength="16.5" lengthAdjust="spacingAndGlyphs">(a)</text>
<text x="118.6" y="11.2" font-family="'Liberation Serif', serif" font-size="10.5" font-weight="bold" fill="#141414" stroke="#141414" stroke-width="0.30" stroke-linejoin="round" textLength="18.9" lengthAdjust="spacingAndGlyphs">Fc/2</text>
<text x="153.0" y="46.0" font-family="'Liberation Serif', serif" font-size="10.5" font-weight="bold" fill="#141414" stroke="#141414" stroke-width="0.30" stroke-linejoin="round" textLength="12.5" lengthAdjust="spacingAndGlyphs">LC</text>
<text x="235.0" y="51.9" font-family="'Liberation Serif', serif" font-size="10.5" font-weight="bold" fill="#141414" stroke="#141414" stroke-width="0.30" stroke-linejoin="round" textLength="14.8" lengthAdjust="spacingAndGlyphs">Fd’</text>
<text x="104.7" y="113.3" font-family="'Liberation Serif', serif" font-size="12.5" font-weight="bold" fill="#111" stroke="#111" stroke-width="0.50" stroke-linejoin="round" text-anchor="middle">*</text>
<text x="199.6" y="125.2" font-family="'Liberation Serif', serif" font-size="12.0" font-weight="bold" fill="#111" stroke="#111" stroke-width="0.50" stroke-linejoin="round" text-anchor="middle">**</text>
<text x="14.8" y="133.6" font-family="'Liberation Serif', serif" font-size="14.0" font-weight="normal" fill="#f5803e" stroke="#f5803e" stroke-width="0.55" stroke-linejoin="round" textLength="26.0" lengthAdjust="spacingAndGlyphs">IgdE</text>
<text x="15.0" y="186.8" font-family="'Liberation Serif', serif" font-size="14.0" font-weight="normal" fill="#40ec38" stroke="#40ec38" stroke-width="0.55" stroke-linejoin="round" textLength="23.4" lengthAdjust="spacingAndGlyphs">Kgp</text>
<text x="15.5" y="230.0" font-family="'Liberation Serif', serif" font-size="14.0" font-weight="normal" fill="#3a8ee8" stroke="#3a8ee8" stroke-width="0.55" stroke-linejoin="round" textLength="25.3" lengthAdjust="spacingAndGlyphs">IdeS</text>
<text x="299.5" y="175.3" font-family="'Liberation Serif', serif" font-size="13.0" font-weight="bold" fill="#111" stroke="#111" stroke-width="0.30" stroke-linejoin="round" textLength="26.5" lengthAdjust="spacingAndGlyphs">- Thr</text>
<text x="521.0" y="42.9" font-family="'Liberation Serif', serif" font-size="15.3" font-weight="normal" fill="#111" stroke="#111" stroke-width="0.20" stroke-linejoin="round" textLength="29.4" lengthAdjust="spacingAndGlyphs">mAb</text>
<text x="16.6" y="342.8" font-family="'Liberation Serif', serif" font-size="15.8" font-weight="normal" fill="#111" stroke="#111" stroke-width="0.30" stroke-linejoin="round" textLength="17.5" lengthAdjust="spacingAndGlyphs">(b)</text>
<text x="18.6" y="377.8" font-family="'Liberation Serif', serif" font-size="13.8" font-weight="bold" fill="#ee1b2e" stroke="#ee1b2e" stroke-width="0.30" stroke-linejoin="round" textLength="64.2" lengthAdjust="spacingAndGlyphs">No enzyme</text>
<text x="17.8" y="447.0" font-family="'Liberation Serif', serif" font-size="14.0" font-weight="normal" fill="#40ec38" stroke="#40ec38" stroke-width="0.55" stroke-linejoin="round" textLength="22.6" lengthAdjust="spacingAndGlyphs">Kgp</text>
<text x="18.8" y="502.1" font-family="'Liberation Serif', serif" font-size="14.0" font-weight="normal" fill="#3a8ee8" stroke="#3a8ee8" stroke-width="0.55" stroke-linejoin="round" textLength="25.2" lengthAdjust="spacingAndGlyphs">IdeS</text>
<text x="189.7" y="382.6" font-family="'Liberation Serif', serif" font-size="10.5" font-weight="bold" fill="#141414" stroke="#141414" stroke-width="0.30" stroke-linejoin="round" textLength="18.2" lengthAdjust="spacingAndGlyphs">Fc/2</text>
<text x="246.1" y="314.8" font-family="'Liberation Serif', serif" font-size="10.5" font-weight="bold" fill="#141414" stroke="#141414" stroke-width="0.30" stroke-linejoin="round" textLength="12.9" lengthAdjust="spacingAndGlyphs">LC</text>
<text x="301.4" y="327.0" font-family="'Liberation Serif', serif" font-size="10.5" font-weight="bold" fill="#141414" stroke="#141414" stroke-width="0.30" stroke-linejoin="round" textLength="14.6" lengthAdjust="spacingAndGlyphs">HC</text>
<text x="310.3" y="287.3" font-family="'Liberation Serif', serif" font-size="10.5" font-weight="bold" fill="#141414" stroke="#141414" stroke-width="0.30" stroke-linejoin="round" textLength="17.9" lengthAdjust="spacingAndGlyphs">LC+</text>
<text x="311.0" y="299.4" font-family="'Liberation Serif', serif" font-size="10.5" font-weight="bold" fill="#141414" stroke="#141414" stroke-width="0.30" stroke-linejoin="round" textLength="27.3" lengthAdjust="spacingAndGlyphs">1 drug</text>
<text x="354.2" y="287.3" font-family="'Liberation Serif', serif" font-size="10.5" font-weight="bold" fill="#141414" stroke="#141414" stroke-width="0.30" stroke-linejoin="round" textLength="20.9" lengthAdjust="spacingAndGlyphs">HC+</text>
<text x="357.2" y="299.4" font-family="'Liberation Serif', serif" font-size="10.5" font-weight="bold" fill="#141414" stroke="#141414" stroke-width="0.30" stroke-linejoin="round" textLength="27.9" lengthAdjust="spacingAndGlyphs">1 drug</text>
<text x="329.3" y="352.6" font-family="'Liberation Serif', serif" font-size="10.5" font-weight="bold" fill="#141414" stroke="#141414" stroke-width="0.30" stroke-linejoin="round" textLength="14.0" lengthAdjust="spacingAndGlyphs">Fd’</text>
<text x="407.7" y="312.0" font-family="'Liberation Serif', serif" font-size="10.5" font-weight="bold" fill="#141414" stroke="#141414" stroke-width="0.30" stroke-linejoin="round" textLength="19.7" lengthAdjust="spacingAndGlyphs">HC+</text>
<text x="409.3" y="324.5" font-family="'Liberation Serif', serif" font-size="10.5" font-weight="bold" fill="#141414" stroke="#141414" stroke-width="0.30" stroke-linejoin="round" textLength="32.6" lengthAdjust="spacingAndGlyphs">2 drugs</text>
<text x="468.6" y="343.2" font-family="'Liberation Serif', serif" font-size="10.5" font-weight="bold" fill="#141414" stroke="#141414" stroke-width="0.30" stroke-linejoin="round" textLength="20.3" lengthAdjust="spacingAndGlyphs">HC+</text>
<text x="470.8" y="355.3" font-family="'Liberation Serif', serif" font-size="10.5" font-weight="bold" fill="#141414" stroke="#141414" stroke-width="0.30" stroke-linejoin="round" textLength="32.5" lengthAdjust="spacingAndGlyphs">3 drugs</text>
<text x="216.5" y="397.6" font-family="'Liberation Serif', serif" font-size="10.5" font-weight="bold" fill="#141414" stroke="#141414" stroke-width="0.30" stroke-linejoin="round" textLength="18.0" lengthAdjust="spacingAndGlyphs">Fc/2</text>
<text x="340.2" y="395.3" font-family="'Liberation Serif', serif" font-size="10.5" font-weight="bold" fill="#141414" stroke="#141414" stroke-width="0.30" stroke-linejoin="round" textLength="25.6" lengthAdjust="spacingAndGlyphs">Fc/2 +</text>
<text x="340.8" y="407.2" font-family="'Liberation Serif', serif" font-size="10.5" font-weight="bold" fill="#141414" stroke="#141414" stroke-width="0.30" stroke-linejoin="round" textLength="27.9" lengthAdjust="spacingAndGlyphs">1 drug</text>
<text x="389.7" y="399.3" font-family="'Liberation Serif', serif" font-size="10.5" font-weight="bold" fill="#141414" stroke="#141414" stroke-width="0.30" stroke-linejoin="round" textLength="20.2" lengthAdjust="spacingAndGlyphs">Fd’+</text>
<text x="389.7" y="411.0" font-family="'Liberation Serif', serif" font-size="10.5" font-weight="bold" fill="#141414" stroke="#141414" stroke-width="0.30" stroke-linejoin="round" textLength="28.3" lengthAdjust="spacingAndGlyphs">1 drug</text>
<text x="464.4" y="422.9" font-family="'Liberation Serif', serif" font-size="10.5" font-weight="bold" fill="#141414" stroke="#141414" stroke-width="0.30" stroke-linejoin="round" textLength="27.7" lengthAdjust="spacingAndGlyphs">Fc/2 +</text>
<text x="464.4" y="434.0" font-family="'Liberation Serif', serif" font-size="10.5" font-weight="bold" fill="#141414" stroke="#141414" stroke-width="0.30" stroke-linejoin="round" textLength="33.2" lengthAdjust="spacingAndGlyphs">2 drugs</text>
<text x="230.0" y="467.0" font-family="'Liberation Serif', serif" font-size="10.5" font-weight="bold" fill="#141414" stroke="#141414" stroke-width="0.30" stroke-linejoin="round" textLength="15.5" lengthAdjust="spacingAndGlyphs">Fd’</text>
<text x="344.1" y="477.9" font-family="'Liberation Serif', serif" font-size="10.5" font-weight="bold" fill="#141414" stroke="#141414" stroke-width="0.30" stroke-linejoin="round" textLength="21.7" lengthAdjust="spacingAndGlyphs">Fd’ +</text>
<text x="344.7" y="489.8" font-family="'Liberation Serif', serif" font-size="10.5" font-weight="bold" fill="#141414" stroke="#141414" stroke-width="0.30" stroke-linejoin="round" textLength="27.6" lengthAdjust="spacingAndGlyphs">1 drug</text>
<text x="397.0" y="472.8" font-family="'Liberation Serif', serif" font-size="10.5" font-weight="bold" fill="#141414" stroke="#141414" stroke-width="0.30" stroke-linejoin="round" textLength="21.5" lengthAdjust="spacingAndGlyphs">Fd’ +</text>
<text x="397.0" y="483.6" font-family="'Liberation Serif', serif" font-size="10.5" font-weight="bold" fill="#141414" stroke="#141414" stroke-width="0.30" stroke-linejoin="round" textLength="32.2" lengthAdjust="spacingAndGlyphs">2 drugs</text>
<text x="547.7" y="480.6" font-family="'Liberation Serif', serif" font-size="10.5" font-weight="bold" fill="#141414" stroke="#141414" stroke-width="0.30" stroke-linejoin="round" textLength="21.2" lengthAdjust="spacingAndGlyphs">Fd’ +</text>
<text x="547.7" y="492.0" font-family="'Liberation Serif', serif" font-size="10.5" font-weight="bold" fill="#141414" stroke="#141414" stroke-width="0.30" stroke-linejoin="round" textLength="32.4" lengthAdjust="spacingAndGlyphs">3 drugs</text>
<text x="530.0" y="285.2" font-family="'Liberation Serif', serif" font-size="15.7" font-weight="normal" fill="#111" stroke="#111" stroke-width="0.20" stroke-linejoin="round" textLength="31.8" lengthAdjust="spacingAndGlyphs">ADC</text>
<text x="273.3" y="554.0" font-family="'Liberation Serif', serif" font-size="13.0" font-weight="normal" fill="#111" stroke="#111" stroke-width="0.20" stroke-linejoin="round" textLength="60.6" lengthAdjust="spacingAndGlyphs">Time (min)</text>
<line x1="295.5" y1="112.8" x2="259.3" y2="117.0" stroke="#f6a04a" stroke-width="0.95"/><polygon points="253.7,117.6 260.4,113.0 259.3,117.0 261.3,120.6" fill="#f47e3c"/>
<line x1="273.6" y1="155.8" x2="248.1" y2="149.0" stroke="#52e048" stroke-width="0.95"/><polygon points="242.7,147.6 250.6,145.8 248.1,149.0 248.7,153.1" fill="#3ee634"/>
<line x1="323.0" y1="220.3" x2="274.1" y2="216.4" stroke="#62b0f2" stroke-width="0.95"/><polygon points="268.5,215.9 276.0,212.7 274.1,216.4 275.4,220.3" fill="#3a92ec"/>
<rect x="285.61" y="107.70" width="25.28" height="5.40" rx="1" fill="#f64c3a" stroke="#fb1e1e" stroke-width="1.00" transform="rotate(48.05 298.25 110.40)"/>
<rect x="270.48" y="162.95" width="25.75" height="5.40" rx="1" fill="#f64c3a" stroke="#fb1e1e" stroke-width="1.00" transform="rotate(46.57 283.35 165.65)"/>
<rect x="313.65" y="206.45" width="31.50" height="5.00" rx="1" fill="#f64c3a" stroke="#fb1e1e" stroke-width="1.00" transform="rotate(47.70 329.40 208.95)"/>
<rect x="337.2" y="218.8" width="6.6" height="13.2" rx="0.8" fill="#f64c3a" stroke="#fb1e1e" stroke-width="1.0"/>
<rect x="506.06" y="64.80" width="28.88" height="5.00" rx="1" fill="#f64c3a" stroke="#fb1e1e" stroke-width="1.00" transform="rotate(47.81 520.50 67.30)"/>
<rect x="537.06" y="64.80" width="28.88" height="5.00" rx="1" fill="#f64c3a" stroke="#fb1e1e" stroke-width="1.00" transform="rotate(132.19 551.50 67.30)"/>
<rect x="527.9" y="77.6" width="5.0" height="14.4" rx="0.8" fill="#f64c3a" stroke="#fb1e1e" stroke-width="1.0"/>
<rect x="539.3" y="77.6" width="5.0" height="15.2" rx="0.8" fill="#f64c3a" stroke="#fb1e1e" stroke-width="1.0"/>
<rect x="501.55" y="70.10" width="24.90" height="4.20" rx="1" fill="#fcd0a8" stroke="#dc6e38" stroke-width="0.90" transform="rotate(46.30 514.00 72.20)"/>
<rect x="545.24" y="71.50" width="25.32" height="4.20" rx="1" fill="#fcd0a8" stroke="#dc6e38" stroke-width="0.90" transform="rotate(135.96 557.90 73.60)"/>
<rect x="533.0" y="86.2" width="6.2" height="6.0" fill="#a3adb3"/>
<rect x="527.9" y="95.3" width="5.0" height="30.5" rx="0.8" fill="#f64c3a" stroke="#fb1e1e" stroke-width="1.0"/>
<rect x="539.3" y="95.3" width="5.0" height="31.2" rx="0.8" fill="#f64c3a" stroke="#fb1e1e" stroke-width="1.0"/>
<path d="M527.9 112.4 L523.3 112.4 M523.3 112.4 L517.3 108.3 M523.3 112.4 L517.3 116.7" stroke="#4fe248" stroke-width="1.1" fill="none"/>
<path d="M544.3 114.4 L549.8 114.4 M549.8 114.4 L556.7 110.6 M549.8 114.4 L556.7 118.5" stroke="#4fe248" stroke-width="1.1" fill="none"/>
<line x1="508.5" y1="83.4" x2="527.6" y2="83.4" stroke="#869692" stroke-width="1.3" stroke-dasharray="1.5,1.2"/>
<line x1="544.3" y1="95.8" x2="565.0" y2="95.8" stroke="#869692" stroke-width="1.3" stroke-dasharray="1.5,1.2"/>
<polygon points="499.06,79.52 505.65,84.00 506.55,82.80 500.38,77.76" fill="#111"/><polygon points="505.77,84.07 516.05,88.61 516.35,87.99 506.43,82.73" fill="#111"/><circle cx="497.80" cy="77.20" r="2.35" fill="none" stroke="#111" stroke-width="1.45"/><polygon points="500.18,89.24 506.55,84.00 505.65,82.80 498.86,87.48" fill="#111"/><polygon points="506.43,84.07 516.35,78.81 516.05,78.19 505.77,82.73" fill="#111"/><circle cx="497.60" cy="89.80" r="2.35" fill="none" stroke="#111" stroke-width="1.45"/>
<polygon points="572.73,89.99 566.54,95.21 567.46,96.39 574.07,91.74" fill="#111"/><polygon points="566.69,95.12 556.65,100.18 556.95,100.82 567.31,96.48" fill="#111"/><circle cx="575.30" cy="89.40" r="2.35" fill="none" stroke="#111" stroke-width="1.45"/><polygon points="574.04,99.68 567.45,95.20 566.55,96.40 572.72,101.44" fill="#111"/><polygon points="567.31,95.12 556.95,90.78 556.65,91.42 566.69,96.48" fill="#111"/><circle cx="575.30" cy="102.00" r="2.35" fill="none" stroke="#111" stroke-width="1.45"/>
<circle cx="533.5" cy="304.5" r="4.6" fill="#fdf6e0"/><circle cx="533.5" cy="304.5" r="2.1" fill="#fbe6ae" stroke="#efbd4a" stroke-width="1.2"/>
<circle cx="557.6" cy="305.3" r="4.6" fill="#fdf6e0"/><circle cx="557.6" cy="305.3" r="2.1" fill="#fbe6ae" stroke="#efbd4a" stroke-width="1.2"/>
<circle cx="519.0" cy="320.6" r="4.6" fill="#fdf6e0"/><circle cx="519.0" cy="320.6" r="2.1" fill="#fbe6ae" stroke="#efbd4a" stroke-width="1.2"/>
<circle cx="574.4" cy="319.0" r="4.6" fill="#fdf6e0"/><circle cx="574.4" cy="319.0" r="2.1" fill="#fbe6ae" stroke="#efbd4a" stroke-width="1.2"/>
<circle cx="533.8" cy="331.0" r="4.6" fill="#fdf6e0"/><circle cx="533.8" cy="331.0" r="2.1" fill="#fbe6ae" stroke="#efbd4a" stroke-width="1.2"/>
<circle cx="533.8" cy="337.0" r="4.6" fill="#fdf6e0"/><circle cx="533.8" cy="337.0" r="2.1" fill="#fbe6ae" stroke="#efbd4a" stroke-width="1.2"/>
<circle cx="559.9" cy="331.5" r="4.6" fill="#fdf6e0"/><circle cx="559.9" cy="331.5" r="2.1" fill="#fbe6ae" stroke="#efbd4a" stroke-width="1.2"/>
<circle cx="559.9" cy="337.5" r="4.6" fill="#fdf6e0"/><circle cx="559.9" cy="337.5" r="2.1" fill="#fbe6ae" stroke="#efbd4a" stroke-width="1.2"/>
<rect x="515.16" y="309.90" width="30.78" height="4.80" rx="1" fill="#5820ec" stroke="#4c18d8" stroke-width="1.00" transform="rotate(47.24 530.55 312.30)"/>
<rect x="546.03" y="309.90" width="30.65" height="4.80" rx="1" fill="#5820ec" stroke="#4c18d8" stroke-width="1.00" transform="rotate(132.49 561.35 312.30)"/>
<rect x="538.0" y="322.6" width="5.6" height="14.2" rx="0.8" fill="#5820ec" stroke="#4c18d8" stroke-width="0.6"/>
<rect x="548.5" y="322.6" width="5.8" height="14.8" rx="0.8" fill="#5820ec" stroke="#4c18d8" stroke-width="0.6"/>
<rect x="511.78" y="313.50" width="24.63" height="4.40" rx="1" fill="#fcd0a8" stroke="#f0703a" stroke-width="0.90" transform="rotate(47.63 524.10 315.70)"/>
<rect x="555.28" y="314.30" width="24.05" height="4.40" rx="1" fill="#fcd0a8" stroke="#f0703a" stroke-width="0.90" transform="rotate(136.35 567.30 316.50)"/>
<rect x="543.6" y="329.0" width="4.9" height="7.8" fill="#a3adb3"/>
<rect x="538.0" y="339.2" width="6.0" height="31.3" rx="0.8" fill="#5820ec" stroke="#4c18d8" stroke-width="0.6"/>
<rect x="548.4" y="339.2" width="6.2" height="31.3" rx="0.8" fill="#5820ec" stroke="#4c18d8" stroke-width="0.6"/>
<line x1="549.0" y1="341" x2="549.0" y2="370" stroke="#f08a4a" stroke-width="0.7" stroke-dasharray="0.7,2.1"/>
<path d="M537.8 359.6 L533 359.6 M533 359.6 L527 355.2 M533 359.6 L527 364.1" stroke="#4fe248" stroke-width="1.1" fill="none"/>
<path d="M554.8 359.6 L560.4 359.6 M560.4 359.6 L566.8 355.2 M560.4 359.6 L566.8 364.1" stroke="#4fe248" stroke-width="1.1" fill="none"/></svg></body></html>
